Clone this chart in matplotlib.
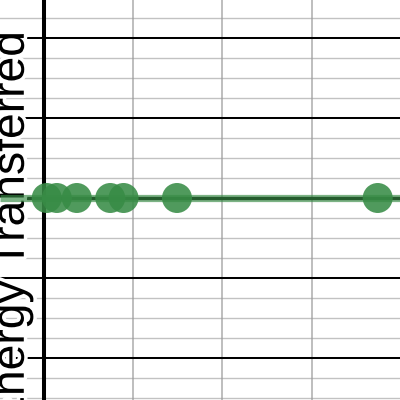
import matplotlib
matplotlib.use("Agg")
import matplotlib.pyplot as plt
import matplotlib.patheffects as pe
from matplotlib.ticker import MultipleLocator
import numpy as np

# ---- data ----
x_vals = [0.03, 0.143, 0.367, 0.742, 0.891, 1.49, 3.74]
y_vals = [0.0, 0.0, 0.0, 0.0, 0.0, 0.0, 0.0]
y_label = "Energy Transferred"
x_lim = (-0.494, 3.99)
y_lim = (-2.525, 2.475)

GREEN = "#388c46"

fig = plt.figure(figsize=(4, 4), dpi=100)
ax = fig.add_axes([0, 0, 1, 1])
ax.set_xlim(*x_lim)
ax.set_ylim(*y_lim)
for s in ax.spines.values():
    s.set_visible(False)

ax.xaxis.set_major_locator(MultipleLocator(1))
ax.yaxis.set_major_locator(MultipleLocator(1))
ax.yaxis.set_minor_locator(MultipleLocator(0.25))
ax.tick_params(which="both", length=0, labelleft=False, labelbottom=False)
ax.set_axisbelow(True)
ax.grid(which="minor", axis="y", color="#9a9a9a", alpha=0.6, lw=1.0)
ax.grid(which="major", axis="y", color="black", lw=1.45)
ax.grid(which="major", axis="x", color="#8a8a8a", alpha=0.6, lw=1.3)

# axis lines
ax.axvline(0, color="black", lw=2.9, zorder=1.5)
ax.axhline(0, color="black", lw=2.4, zorder=1.5)

# y label with white halo
ax.text(23.8 / 400, 1 - 229 / 400, y_label, transform=fig.transFigure,
        rotation=90, rotation_mode="anchor", ha="center", va="baseline",
        fontsize=33.3, family=["Liberation Sans", "DejaVu Sans"], color="black",
        path_effects=[pe.withStroke(linewidth=5, foreground="white")], zorder=2)

# fitted (constant) line through data
coef = np.polyfit(x_vals, y_vals, 1)
xs = np.array(x_lim)
ax.plot(xs, np.polyval(coef, xs), color=GREEN, lw=5.2, alpha=0.66,
        solid_capstyle="butt", zorder=3)

# points
ax.scatter(x_vals, y_vals, s=21.6 ** 2, color=GREEN, alpha=0.88,
           edgecolors="none", zorder=4)

fig.savefig("out.png", dpi=100)
